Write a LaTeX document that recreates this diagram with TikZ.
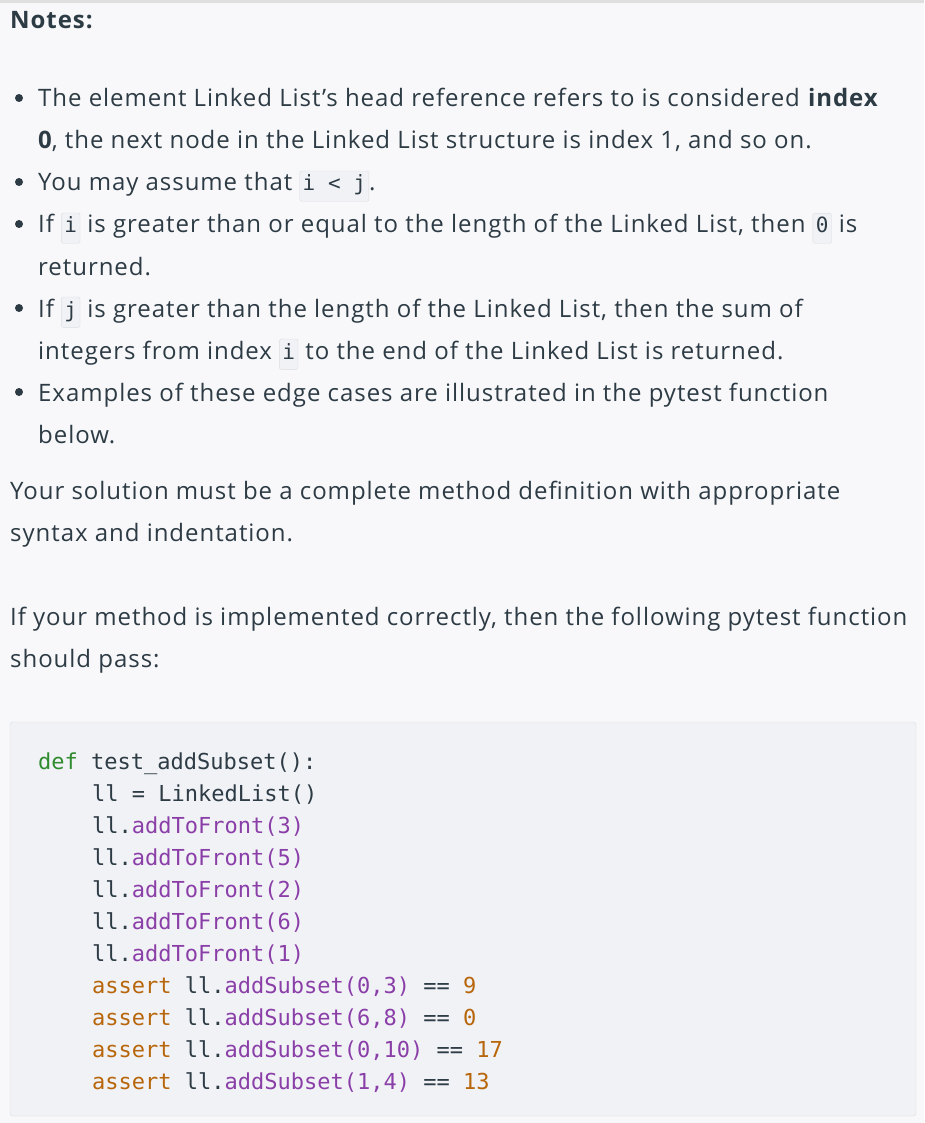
\documentclass[tikz,border=0pt]{standalone}
\usepackage{fontspec}
\setmainfont[LetterSpace=4]{Open Sans}
\setmonofont{DejaVu Sans Mono}
\definecolor{bg}{HTML}{F8F8FA}
\definecolor{codebg}{HTML}{F1F2F6}
\definecolor{codeln}{HTML}{DCDDE2}
\definecolor{txt}{HTML}{2D3B45}
\definecolor{kw}{HTML}{2E8B2E}
\definecolor{fn}{HTML}{8A3FA8}
\definecolor{num}{HTML}{B8660B}
\newcommand{\ic}[1]{\tikz[baseline=(c.base)]\node[fill=codebg,draw=codeln,rounded corners=2pt,inner xsep=3pt,inner ysep=4pt,font=\ttfamily\fontsize{21}{21}\selectfont](c){\strut #1};}
\begin{document}
\begin{tikzpicture}[x=1pt,y=-1pt,
  tl/.style={anchor=base west,inner sep=0pt,text=txt,font=\fontsize{24}{24}\selectfont},
  cl/.style={anchor=base west,inner sep=0pt,text=txt,font=\ttfamily\fontsize{22}{22}\selectfont},
  dot/.style={circle,fill=txt,inner sep=0pt,minimum size=8pt}]
\useasboundingbox (0,0) rectangle (924,1123);
\fill[bg] (0,0) rectangle (924,1123);
\fill[gray!25] (0,0) rectangle (924,3);
\node[tl,font=\bfseries\fontsize{24}{24}\selectfont] (notes) at (10,29) {Notes:};
\foreach \y/\n in {98/a,182/b,224/c,308/d,392/e}{\node[dot] (d\n) at (19,\y) {};}
\node[tl] (l1) at (38,107) {The element Linked List's head reference refers to is considered \textbf{index}};
\node[tl] (l2) at (38,149) {\textbf{0}, the next node in the Linked List structure is index 1, and so on.};
\node[tl] (l3) at (38,191) {You may assume that \ic{i < j}.};
\node[tl] (l4) at (38,233) {If \ic{i} is greater than or equal to the length of the Linked List, then \ic{0} is};
\node[tl] (l5) at (38,275) {returned.};
\node[tl] (l6) at (38,317) {If \ic{j} is greater than the length of the Linked List, then the sum of};
\node[tl] (l7) at (38,359) {integers from index \ic{i} to the end of the Linked List is returned.};
\node[tl] (l8) at (38,401) {Examples of these edge cases are illustrated in the pytest function};
\node[tl] (l9) at (38,443) {below.};
\node[tl] (p1) at (10,499) {Your solution must be a complete method definition with appropriate};
\node[tl] (p2) at (10,541) {syntax and indentation.};
\node[tl] (p3) at (10,625) {If your method is implemented correctly, then the following pytest function};
\node[tl] (p4) at (10,667) {should pass:};
\draw[codeln,fill=codebg,rounded corners=3pt] (10,722) rectangle (916,1116);
\node[cl] (c1) at (38,769) {\textcolor{kw}{def} test\_addSubset():};
\node[cl] (c2) at (92,801) {ll = LinkedList()};
\foreach \k/\v in {3/3,4/5,5/2,6/6,7/1}{
  \node[cl] (c\k) at (92,769+32*\k-32) {ll.\textcolor{fn}{addToFront(\v)}};}
\node[cl] (c8) at (92,993) {\textcolor{num}{assert} ll.\textcolor{fn}{addSubset(0,3)} == \textcolor{num}{9}};
\node[cl] (c9) at (92,1025) {\textcolor{num}{assert} ll.\textcolor{fn}{addSubset(6,8)} == \textcolor{num}{0}};
\node[cl] (c10) at (92,1057) {\textcolor{num}{assert} ll.\textcolor{fn}{addSubset(0,10)} == \textcolor{num}{17}};
\node[cl] (c11) at (92,1089) {\textcolor{num}{assert} ll.\textcolor{fn}{addSubset(1,4)} == \textcolor{num}{13}};
\end{tikzpicture}
\end{document}
